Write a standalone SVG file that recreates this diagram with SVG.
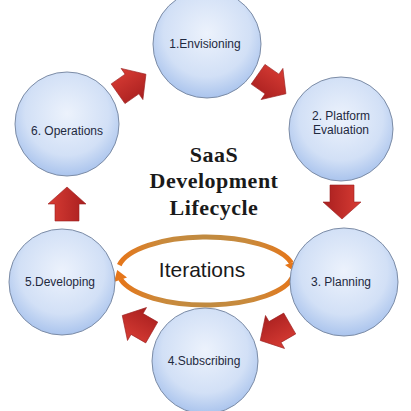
<svg xmlns="http://www.w3.org/2000/svg" width="411" height="411" viewBox="0 0 411 411">
<style>
.node{fill:url(#blue);stroke:#7c8ca6;stroke-width:1}
.lbl{font-family:"Liberation Sans",Arial,sans-serif;font-size:12px;fill:#1e2940;text-anchor:middle}
.arr{fill:url(#red);stroke:#9a2020;stroke-width:0.6}
.title{font-family:"Liberation Serif","Times New Roman",serif;font-weight:bold;font-size:22px;letter-spacing:0.5px;fill:#1a1a1a;text-anchor:middle}
.ring{fill:none;stroke:url(#orange);stroke-width:5}
</style>
<defs>
<radialGradient id="blue" cx="50%" cy="40%" r="62%">
<stop offset="0" stop-color="#ecf2fc"/>
<stop offset="0.65" stop-color="#d2e0f6"/>
<stop offset="1" stop-color="#a6c1ec"/>
</radialGradient>
<linearGradient id="red" x1="0" y1="0" x2="0" y2="1">
<stop offset="0" stop-color="#d83c34"/>
<stop offset="1" stop-color="#a81f1f"/>
</linearGradient>
<linearGradient id="orange" x1="0" y1="0" x2="1" y2="0">
<stop offset="0" stop-color="#e5761a"/>
<stop offset="0.25" stop-color="#c98a3c"/>
<stop offset="0.5" stop-color="#c08a40"/>
<stop offset="0.75" stop-color="#c98a3c"/>
<stop offset="1" stop-color="#e5761a"/>
</linearGradient>
<path id="blk" d="M-17,-12 H0 V-19 L17,0 L0,19 V12 H-17 Z"/>
</defs>
<rect width="411" height="411" fill="#ffffff"/>
<g id="connectors">
<use href="#blk" class="arr" transform="translate(132,84) rotate(-35)"/>
<use href="#blk" class="arr" transform="translate(272,84) rotate(35)"/>
<use href="#blk" class="arr" transform="translate(342,202) rotate(90)"/>
<use href="#blk" class="arr" transform="translate(67,204) rotate(-90)"/>
<use href="#blk" class="arr" transform="translate(137,324) rotate(210)"/>
<use href="#blk" class="arr" transform="translate(275,332) rotate(150)"/>
</g>
<g id="iterations">
<path class="ring" d="M119.3,265.1 A88,34 0 0 1 291.4,262.8"/>
<polygon points="298,260.5 285,265 294.8,272" fill="#e5761a"/>
<path class="ring" d="M293.1,275.7 A88,34 0 0 1 120.6,279.2"/>
<polygon points="127,277.5 114,282 117.2,270" fill="#e5761a"/>
<text x="202" y="277" font-family="'Liberation Sans',Arial,sans-serif" font-size="21" fill="#1a1a1a" text-anchor="middle">Iterations</text>
</g>
<g id="title">
<text class="title" x="214" y="162">SaaS</text>
<text class="title" x="214" y="188">Development</text>
<text class="title" x="214" y="215">Lifecycle</text>
</g>
<g id="n1"><circle class="node" cx="207" cy="44" r="54"/><text class="lbl" x="205" y="48">1.Envisioning</text></g>
<g id="n2"><circle class="node" cx="341" cy="129" r="52"/><text class="lbl" x="341" y="120">2. Platform</text><text class="lbl" x="341" y="134">Evaluation</text></g>
<g id="n3"><circle class="node" cx="344" cy="282" r="54"/><text class="lbl" x="341" y="286">3. Planning</text></g>
<g id="n4"><circle class="node" cx="205" cy="361" r="53"/><text class="lbl" x="204" y="365">4.Subscribing</text></g>
<g id="n5"><circle class="node" cx="62" cy="282" r="53"/><text class="lbl" x="60" y="286">5.Developing</text></g>
<g id="n6"><circle class="node" cx="67" cy="124" r="52"/><text class="lbl" x="67" y="135">6. Operations</text></g>
</svg>
